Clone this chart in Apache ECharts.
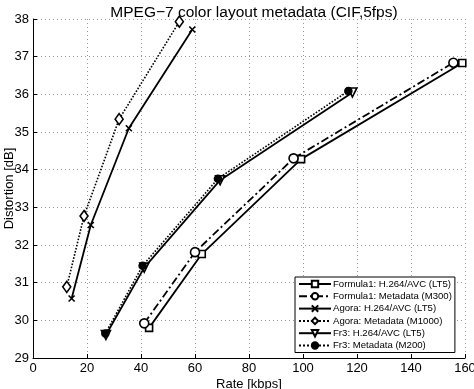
<!DOCTYPE html>
<html><head><meta charset="utf-8">
<script src="https://cdn.jsdelivr.net/npm/echarts@6/dist/echarts.min.js"></script>
<style>html,body{margin:0;padding:0;background:#fff}#c{width:474px;height:389px}</style>
</head><body><div id="c"></div>
<script>
const seriesNames = ['Formula1: H.264/AVC (LT5)','Formula1: Metadata (M300)','Agora: H.264/AVC (LT5)','Agora: Metadata (M1000)','Fr3: H.264/AVC (LT5)','Fr3: Metadata (M200)'];
const f1AvcX = [43, 62.5, 99.3, 159];
const f1AvcY = [29.8, 31.76, 34.28, 36.83];
const f1MetaX = [41.2, 60, 96.5, 155.7];
const f1MetaY = [29.92, 31.81, 34.3, 36.84];
const agAvcX = [14.3, 21.4, 35.5, 59];
const agAvcY = [30.58, 32.53, 35.1, 37.72];
const agMetaX = [12.5, 18.9, 31.9, 54.2];
const agMetaY = [30.89, 32.77, 35.34, 37.93];
const frAvcX = [27, 41.2, 69.3, 118.3];
const frAvcY = [29.61, 31.4, 33.72, 36.05];
const frMetaX = [26.8, 40.6, 68.5, 116.8];
const frMetaY = [29.65, 31.45, 33.76, 36.09];
const xTicks = [0,20,40,60,80,100,120,140,160];
const yTicks = [29,30,31,32,33,34,35,36,37,38];

const zip = (xs, ys) => xs.map((x,i)=>[x, ys[i]]);
const FONT = 'Liberation Sans';
const crossPath = 'path://M0,0L10,10M10,0L0,10';
function mk(name, xs, ys, symbol, size, lineType, fill){
  return {
    name, type:'line', data: zip(xs, ys), symbol, symbolSize:size, showSymbol:true,
    lineStyle:{color:'#000', width: lineType==='dotted'?1.6:1.8, type: lineType},
    itemStyle:{color: fill ? '#000' : '#fff', borderColor:'#000', borderWidth:1.6},
    emphasis:{disabled:true}, animation:false, z: 3
  };
}
const chart = echarts.init(document.getElementById('c'));
chart.setOption({
  backgroundColor:'#fff',
  animation:false,
  title:{text:'MPEG\u22127 color layout metadata (CIF,5fps)', left:249, top:0, textAlign:'center',
    textStyle:{fontFamily:FONT, fontSize:15.5, fontWeight:'normal', color:'#000'}},
  grid:{left:33, right:9, top:19, bottom:31, containLabel:false, outerBoundsMode:'none'},
  xAxis:{type:'value', min:0, max:160, interval:20,
    name:'Rate [kbps]', nameLocation:'middle', nameGap:20, nameMoveOverlap:false,
    nameTextStyle:{fontFamily:FONT, fontSize:13, color:'#000'},
    axisLine:{show:true, lineStyle:{color:'#000', width:1}},
    axisTick:{show:true, inside:true, length:4, lineStyle:{color:'#000'}},
    axisLabel:{fontFamily:FONT, fontSize:13, color:'#000', margin:4},
    splitLine:{show:true, lineStyle:{color:'#999', type:[1,3], width:1}}},
  yAxis:{type:'value', min:29, max:38, interval:1,
    name:'Distortion [dB]', nameLocation:'middle', nameGap:17, nameRotate:90, nameMoveOverlap:false,
    nameTextStyle:{fontFamily:FONT, fontSize:13, color:'#000'},
    axisLine:{show:true, lineStyle:{color:'#000', width:1}},
    axisTick:{show:true, inside:true, length:4, lineStyle:{color:'#000'}},
    axisLabel:{fontFamily:FONT, fontSize:13, color:'#000', margin:4},
    splitLine:{show:true, lineStyle:{color:'#999', type:[1,3], width:1}}},
  legend:{orient:'vertical', left:295, top:277, itemWidth:32, itemHeight:8, itemGap:2.3,
    padding:[2,3,2,3], borderColor:'#000', borderWidth:1, backgroundColor:'#fff',
    textStyle:{fontFamily:FONT, fontSize:9.6, color:'#000', padding:[0,0,0,-3]},
    data: seriesNames, selectedMode:false},
  series:[
    mk(seriesNames[0], f1AvcX, f1AvcY, 'rect', 7, 'solid', false),
    mk(seriesNames[1], f1MetaX, f1MetaY, 'circle', 9, [8,3,2,3], false),
    mk(seriesNames[2], agAvcX, agAvcY, crossPath, 6, 'solid', false),
    mk(seriesNames[3], agMetaX, agMetaY, 'diamond', [8,11], 'dotted', false),
    mk(seriesNames[4], frAvcX, frAvcY, 'path://M0,0L10,0L5,9Z', 9, 'solid', false),
    mk(seriesNames[5], frMetaX, frMetaY, 'circle', 7, 'dotted', true)
  ]
});
</script></body></html>
